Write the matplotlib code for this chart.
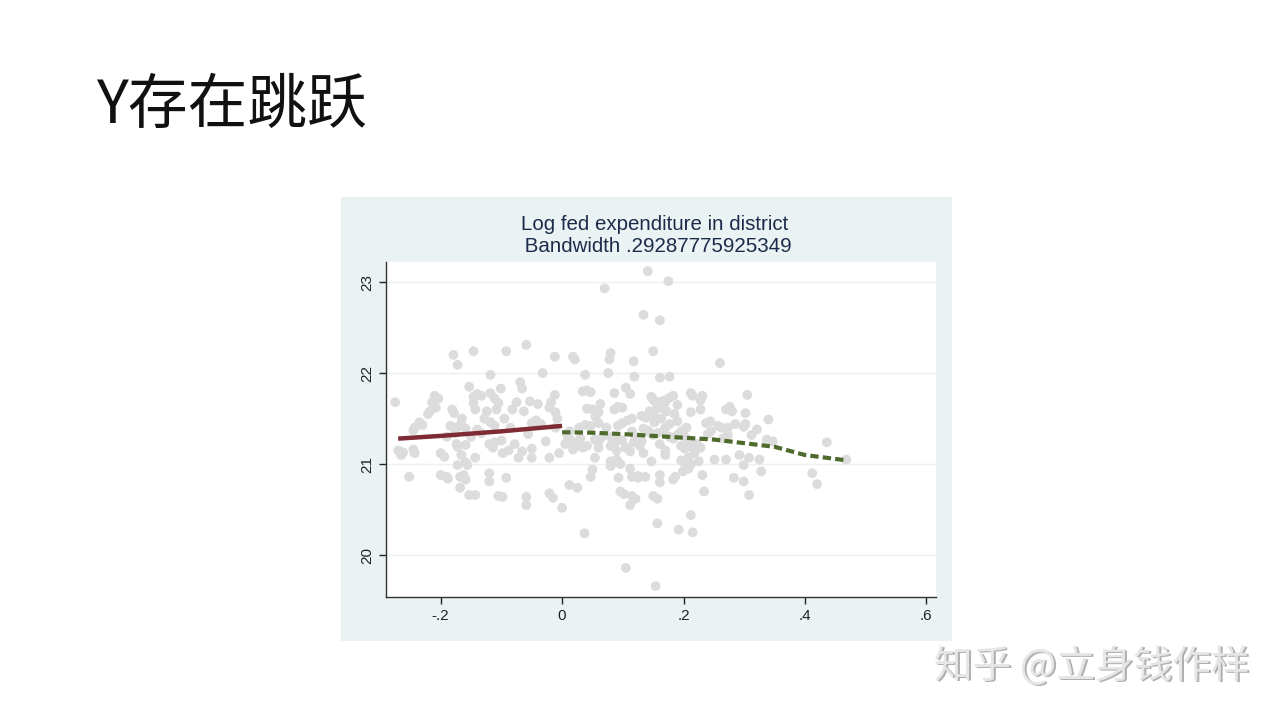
import matplotlib
matplotlib.use("Agg")
from matplotlib import pyplot as plt
import matplotlib.patches as mpatches

plt.rcParams['font.family'] = ['Noto Sans CJK SC', 'DejaVu Sans']

# scatter: running variable (x) and log fed expenditure (y)
x_left = [-0.275, -0.27, -0.265, -0.262, -0.245, -0.243, -0.252, -0.245, -0.243, -0.23,
          -0.218, -0.221, -0.21, -0.204, -0.214, -0.208, -0.2, -0.194, -0.2, -0.19,
          -0.188, -0.179, -0.172, -0.181, -0.178, -0.184, -0.172, -0.166, -0.159, -0.174,
          -0.172, -0.159, -0.166, -0.159, -0.156, -0.172, -0.168, -0.159, -0.162, -0.168,
          -0.153, -0.143, -0.146, -0.153, -0.146, -0.14, -0.133, -0.143, -0.146, -0.14,
          -0.133, -0.143, -0.12, -0.118, -0.118, -0.111, -0.105, -0.108, -0.124, -0.118,
          -0.111, -0.12, -0.111, -0.114, -0.12, -0.101, -0.105, -0.098, -0.092, -0.092,
          -0.098, -0.088, -0.095, -0.082, -0.075, -0.085, -0.069, -0.066, -0.072, -0.059,
          -0.059, -0.059, -0.063, -0.066, -0.053, -0.05, -0.043, -0.05, -0.05, -0.04,
          -0.032, -0.027, -0.021, -0.018, -0.012, -0.021, -0.021, -0.015, -0.012, -0.008,
          -0.011, -0.005, 0.0, -0.011,
          -0.235, -0.19, -0.176, -0.15, -0.128, -0.1, -0.078, -0.056, -0.035, -0.165]
y_left = [21.68, 21.15, 21.1, 21.13, 21.16, 21.12, 20.86, 21.37, 21.4, 21.43,
          21.58, 21.55, 21.75, 21.72, 21.68, 21.62, 21.12, 21.08, 20.88, 20.86,
          20.84, 22.2, 22.09, 21.6, 21.56, 21.42, 21.41, 21.44, 21.39, 21.22,
          21.19, 21.21, 21.1, 21.02, 20.99, 20.99, 20.86, 20.83, 20.88, 20.74,
          20.66, 20.66, 22.24, 21.85, 21.74, 21.77, 21.75, 21.6, 21.67, 21.38,
          21.34, 21.07, 20.9, 21.98, 21.78, 21.72, 21.67, 21.6, 21.58, 21.46,
          21.42, 21.22, 21.24, 21.18, 20.81, 21.83, 20.65, 20.64, 22.24, 20.85,
          21.12, 21.15, 21.5, 21.6, 21.68, 21.4, 21.9, 21.83, 21.07, 20.64,
          20.55, 22.31, 21.58, 21.14, 21.69, 21.45, 21.48, 21.17, 21.07, 21.66,
          22.0, 21.25, 21.62, 21.68, 21.76, 21.07, 20.68, 20.63, 22.18, 21.5,
          21.4, 21.12, 20.52, 21.57,
          21.46, 21.3, 21.34, 21.3, 21.5, 21.26, 21.22, 21.33, 21.44, 21.5]

x_right = [0.018, 0.021, 0.038, 0.034, 0.041, 0.047, 0.038, 0.028, 0.041, 0.05,
           0.012, 0.025, 0.037, 0.047, 0.05, 0.054, 0.06, 0.063, 0.06, 0.07,
           0.076, 0.078, 0.08, 0.086, 0.086, 0.092, 0.099, 0.092, 0.099, 0.08,
           0.086, 0.08, 0.09, 0.096, 0.093, 0.096, 0.102, 0.112, 0.105, 0.105,
           0.112, 0.118, 0.119, 0.115, 0.115, 0.121, 0.112, 0.115, 0.125, 0.115,
           0.121, 0.125, 0.134, 0.141, 0.131, 0.138, 0.134, 0.141, 0.134, 0.137,
           0.147, 0.147, 0.15, 0.154, 0.15, 0.15, 0.157, 0.157, 0.154, 0.161,
           0.161, 0.177, 0.161, 0.17, 0.177, 0.183, 0.163, 0.167, 0.177, 0.161,
           0.17, 0.161, 0.161, 0.17, 0.175, 0.183, 0.186, 0.19, 0.19, 0.196,
           0.202, 0.192, 0.199, 0.212, 0.215, 0.212, 0.212, 0.215, 0.208, 0.212,
           0.208, 0.218, 0.225, 0.228, 0.231, 0.228, 0.228, 0.231, 0.234, 0.237,
           0.244, 0.24, 0.251, 0.26, 0.257, 0.263, 0.27, 0.28, 0.276, 0.273,
           0.273, 0.27, 0.283, 0.299, 0.292, 0.299, 0.302, 0.302, 0.299, 0.305,
           0.308, 0.308, 0.312, 0.321, 0.325, 0.328, 0.34, 0.337, 0.347, 0.412,
           0.42, 0.436, 0.468,
           0.009, 0.015, 0.021, 0.018, 0.028, 0.034, 0.041, 0.054, 0.06, 0.047,
           0.06, 0.073, 0.08, 0.086, 0.099, 0.09, 0.105, 0.112, 0.118, 0.125,
           0.131, 0.144, 0.15, 0.157, 0.144, 0.15, 0.157, 0.17, 0.177, 0.183,
           0.19, 0.196, 0.202, 0.209, 0.196, 0.202, 0.215, 0.08, 0.086,
           0.005, 0.012, 0.03, 0.055, 0.066, 0.108, 0.128, 0.152, 0.158, 0.165,
           0.168, 0.172, 0.185, 0.205, 0.222, 0.245, 0.265, 0.285]
y_right = [22.18, 22.15, 21.98, 21.8, 21.81, 21.79, 21.43, 21.4, 21.61, 21.6,
           20.77, 20.74, 20.24, 20.86, 20.94, 21.07, 21.18, 21.66, 21.57, 22.93,
           22.0, 22.15, 22.22, 21.78, 21.6, 21.63, 21.62, 21.42, 21.45, 21.2,
           21.23, 21.03, 21.05, 21.0, 20.85, 20.7, 20.67, 20.55, 21.84, 19.86,
           21.77, 22.13, 21.96, 21.5, 21.36, 21.3, 20.95, 20.86, 20.87, 20.65,
           20.62, 20.85, 22.64, 23.12, 21.53, 21.51, 21.39, 21.37, 21.12, 20.86,
           21.03, 21.74, 21.71, 21.68, 22.24, 20.65, 20.62, 20.35, 19.66, 22.58,
           21.95, 21.96, 21.68, 21.68, 21.73, 21.75, 21.5, 21.36, 21.3, 21.22,
           21.15, 20.88, 20.8, 21.1, 23.01, 20.83, 20.86, 21.47, 21.65, 21.2,
           21.17, 20.28, 20.92, 21.78, 21.75, 21.57, 20.44, 20.25, 20.95, 21.0,
           21.07, 21.12, 21.03, 21.7, 21.75, 21.6, 21.18, 20.88, 20.7, 21.45,
           21.47, 21.33, 21.05, 22.11, 21.42, 21.4, 21.6, 21.58, 21.63, 21.4,
           21.32, 21.05, 20.85, 20.81, 21.1, 21.41, 21.44, 21.56, 20.99, 21.76,
           20.66, 21.07, 21.32, 21.38, 21.05, 20.92, 21.49, 21.27, 21.25, 20.9,
           20.78, 21.24, 21.05,
           21.3, 21.26, 21.2, 21.16, 21.22, 21.18, 21.2, 21.27, 21.25, 21.42,
           21.45, 21.4, 21.3, 21.28, 21.26, 21.15, 21.18, 21.14, 21.24, 21.27,
           21.25, 21.35, 21.32, 21.34, 21.58, 21.55, 21.61, 21.4, 21.44, 21.28,
           21.32, 21.36, 21.3, 21.26, 21.04, 21.01, 21.18, 20.98, 21.03,
           21.22, 21.36, 21.28, 21.52, 21.3, 21.48, 21.2, 21.46, 21.64, 21.62,
           21.7, 21.58, 21.55, 21.4, 21.22, 21.36, 21.28, 21.44]

# local polynomial fits on each side of the cutoff
fit_left_x = [-0.27, -0.2, -0.1, 0.0]
fit_left_y = [21.28, 21.31, 21.36, 21.42]
fit_right_x = [0.0, 0.05, 0.1, 0.15, 0.2, 0.25, 0.3, 0.35, 0.4, 0.47]
fit_right_y = [21.35, 21.345, 21.33, 21.31, 21.29, 21.27, 21.23, 21.19, 21.1, 21.04]

xticks = [-0.2, 0, 0.2, 0.4, 0.6]
xtick_labels = ['-.2', '0', '.2', '.4', '.6']
yticks = [20, 21, 22, 23]

fig = plt.figure(figsize=(12.8, 7.2), dpi=100)
fig.patch.set_facecolor('white')

# stata-style graph region
fig.patches.append(mpatches.Rectangle((0.2664, 0.1097), 0.4773, 0.6167,
                                      transform=fig.transFigure, facecolor='#EAF2F3',
                                      edgecolor='none', zorder=-10))

ax = fig.add_axes([0.3016, 0.1708, 0.4297, 0.4653])
ax.set_zorder(5)
ax.set_facecolor('white')
ax.scatter(x_left + x_right, y_left + y_right, s=50, color='#DCDCDC', edgecolors='none', zorder=2)
ax.plot(fit_left_x, fit_left_y, color='#7F2A35', lw=3.2, solid_capstyle='butt', zorder=3)
ax.plot(fit_right_x, fit_right_y, color='#4E6A2C', lw=3.0, dashes=(2.0, 1.0), zorder=3)

ax.set_xlim(-0.290, 0.616)
ax.set_ylim(19.54, 23.22)
ax.set_xticks(xticks)
ax.set_xticklabels(xtick_labels, family=['Liberation Sans'])
ax.set_yticks(yticks)
ax.set_yticklabels([str(v) for v in yticks], rotation=90, va='center', family=['Liberation Sans'])
ax.tick_params(labelsize=11, colors='#222222', length=5, width=1)
ax.grid(axis='y', color='#EAF2F3', lw=1)
ax.set_axisbelow(True)
for s in ['top', 'right']:
    ax.spines[s].set_visible(False)
for s in ['left', 'bottom']:
    ax.spines[s].set_color('#333333')
    ax.spines[s].set_linewidth(1.0)

fig.text(0.5117, 0.673, 'Log fed expenditure in district\n Bandwidth .29287775925349',
         ha='center', va='center', fontsize=14.8, color='#1C2B4A',
         family=['Liberation Sans'], linespacing=1.25)

fig.text(0.075, 0.852, 'Y存在跳跃', fontsize=43, color='#111111', ha='left', va='center',
         fontweight='light')

# watermark
fig.text(0.7315, 0.072, '知乎 @立身钱作样', fontsize=27.8, color='#B0B0B0', ha='left', va='center')
fig.text(0.7300, 0.074, '知乎 @立身钱作样', fontsize=27.8, color='#E6E6E6', ha='left', va='center')

fig.savefig('out.png', dpi=100)
